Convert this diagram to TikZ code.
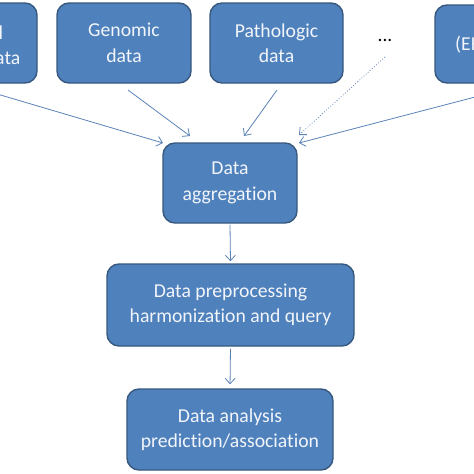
\documentclass[tikz,border=0pt]{standalone}
\usepackage{fontspec}
\setmainfont[Ligatures={NoCommon}]{Carlito}
\usetikzlibrary{arrows.meta}
\definecolor{boxfill}{HTML}{4F81BD}
\definecolor{boxdraw}{HTML}{37597F}
\definecolor{arrowc}{HTML}{5B83B8}
\definecolor{txt}{HTML}{F2F5FA}
\begin{document}
\begin{tikzpicture}[x=1pt,y=-1pt,
  box/.style={draw=boxdraw, fill=boxfill, line width=1.4pt, rounded corners=12pt,
    text=txt, align=center, font=\fontsize{19.7}{25.5}\selectfont, inner sep=0pt,
    execute at begin node={\rule{0pt}{20pt}}},
  conn/.style={draw=arrowc, line width=0.8pt, -{Straight Barb[length=5.5pt,width=10pt]}},
  txtonly/.style={text=txt, font=\fontsize{19.7}{25.5}\selectfont, inner sep=0pt}]
\useasboundingbox (0,0) rectangle (474,474);
\fill[white] (0,0) rectangle (474,474);
% top row
\node[box, minimum width=134pt, minimum height=80pt] (lb) at (-30,43) {};
\node[txtonly, anchor=base east] (lbt1) at (3.5,39) {Clinical};
\node[txtonly, anchor=base east] (lbt2) at (20.5,64) {data};
\node[box, minimum width=134pt, minimum height=80pt] (gen) at (124,43) {Genomic\\data};
\node[box, minimum width=133pt, minimum height=80pt] (pat) at (276.5,43) {Pathologic\\data};
\node[inner sep=0pt, font=\fontsize{19.5}{25.5}\selectfont] (dots) at (385,40) {...};
\node[box, minimum width=134pt, minimum height=78pt] (rb) at (502,44) {};
\node[txtonly, anchor=base west] (rbt) at (455,50) {(EHR)};
% middle and bottom
\node[box, minimum width=134pt, minimum height=80pt] (agg) at (230,183) {Data\\aggregation};
\node[box, minimum width=247pt, minimum height=82pt] (prep) at (230.5,305) {Data preprocessing\\harmonization and query};
\node[box, minimum width=206pt, minimum height=81pt] (anal) at (230,429.5) {Data analysis\\prediction/association};
% connector ends
\coordinate (l1) at (-30,86);
\coordinate (l2) at (163,143);
\coordinate (g1) at (128,90);
\coordinate (g2) at (190,136);
\coordinate (p1) at (277,90);
\coordinate (p2) at (244,136);
\coordinate (d1) at (385,57);
\coordinate (d2) at (299,135);
\coordinate (r1) at (502,90);
\coordinate (r2) at (299,143);
\draw[conn] (l1) -- (l2);
\draw[conn] (g1) -- (g2);
\draw[conn] (p1) -- (p2);
\draw[conn, dotted] (d1) -- (d2);
\draw[conn] (r1) -- (r2);
\draw[conn, shorten <=1pt, shorten >=2pt] (agg.south) -- (prep.north);
\draw[conn, shorten <=2pt, shorten >=4pt] (prep.south) -- (anal.north);
\end{tikzpicture}
\end{document}
